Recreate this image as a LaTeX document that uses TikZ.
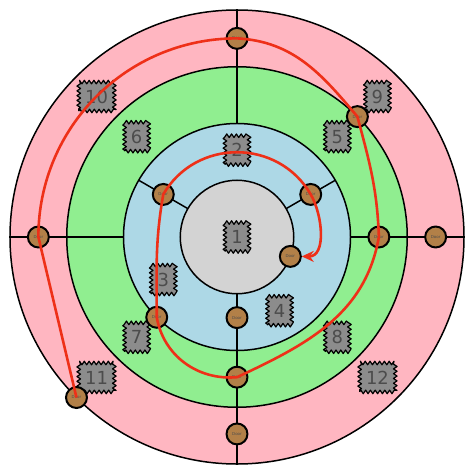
\documentclass[tikz,border=0pt]{standalone}
\usepackage{tikz}
\usepackage{xcolor}
\usepackage{fontspec}
\usetikzlibrary{arrows.meta}
\usetikzlibrary{decorations.pathmorphing}
\newfontfamily\roomfont{DejaVu Sans}
\definecolor{doorbrown}{RGB}{178,128,72}
\definecolor{pathred}{RGB}{238,48,24}
\definecolor{roomgray}{RGB}{140,140,140}
\definecolor{ringpink}{RGB}{255,182,193}
\definecolor{ringgreen}{RGB}{144,238,144}
\definecolor{ringblue}{RGB}{173,216,230}
\definecolor{ringgray}{RGB}{211,211,211}

\begin{document}
\begin{tikzpicture}[line width=0.75pt, draw=black]
    \tikzstyle{door}=[circle, draw=black, line width=1pt, fill=doorbrown, minimum size=10.5pt, inner sep=0pt, font=\roomfont\fontsize{2}{2}\selectfont, text=black!70]
    \tikzstyle{room}=[draw=black, fill=roomgray, line width=0.6pt, line join=round, decorate, decoration={zigzag, segment length=2.4pt, amplitude=0.9pt}, minimum height=14.5pt, minimum width=12pt, inner xsep=3.2pt, font=\roomfont\fontsize{9}{9}\selectfont, text=black!70]
    \tikzstyle{route}=[draw=pathred, line width=1.3pt, -{Stealth[length=6pt, width=5.5pt]}]

    \useasboundingbox (-4.176,-4.176) rectangle (4.176,4.176);

    % rings
    \draw[fill=ringpink] (0,0) circle (4);
    \draw[fill=ringgreen] (0,0) circle (3);
    \draw[fill=ringblue] (0,0) circle (2);
    \draw[fill=ringgray] (0,0) circle (1);

    % walls
    \draw (90:4) -- (90:2);
    \draw (-90:4) -- (-90:1);
    \draw (180:4) -- (180:2);
    \draw (0:4) -- (0:2);
    \draw (150:2) -- (150:1);
    \draw (30:2) -- (30:1);

    % rooms
    \node[room] (r1) at (0,0) {1};
    \node[room] (r2) at (90:1.53) {2};
    \node[room] (r3) at (210:1.5) {3};
    \node[room] (r4) at (-60:1.5) {4};
    \node[room] (r5) at (45:2.5) {5};
    \node[room] (r6) at (135:2.5) {6};
    \node[room] (r7) at (225:2.5) {7};
    \node[room] (r8) at (-45:2.5) {8};
    \node[room] (r9) at (45:3.5) {9};
    \node[room] (r10) at (135:3.5) {10};
    \node[room] (r11) at (225:3.5) {11};
    \node[room] (r12) at (-45:3.5) {12};

    % doors
    \node[door] (d1) at (225:4) {Door};
    \node[door] (d2) at (180:3.5) {Door};
    \node[door] (d3) at (90:3.5) {Door};
    \node[door] (d4) at (45:3) {Door};
    \node[door] (d5) at (0:2.5) {Door};
    \node[door] (d6) at (-90:2.47) {Door};
    \node[door] (d7) at (225:2) {Door};
    \node[door] (d8) at (150:1.5) {Door};
    \node[door] (d9) at (30:1.5) {Door};
    \node[door] (d10) at (-20:1) {Door};
    \node[door] (d11) at (0:3.5) {Door};
    \node[door] (d12) at (-90:3.47) {Door};
    \node[door] (d13) at (-90:1.42) {Door};

    % route
    \draw[route] (d1.center) -- (d2.center) to[out=90, in=180] (d3.center)
        to[out=-3, in=130] (d4.center) to[out=-75, in=92] (d5.center)
        to[out=-100, in=25] (d6.center) to[out=185, in=-80] (d7.center)
        to[out=90, in=-100] (d8.center) to[out=60, in=120, looseness=1.13] (d9.center)
        to[out=-60, in=0] (d10);
\end{tikzpicture}
\end{document}
